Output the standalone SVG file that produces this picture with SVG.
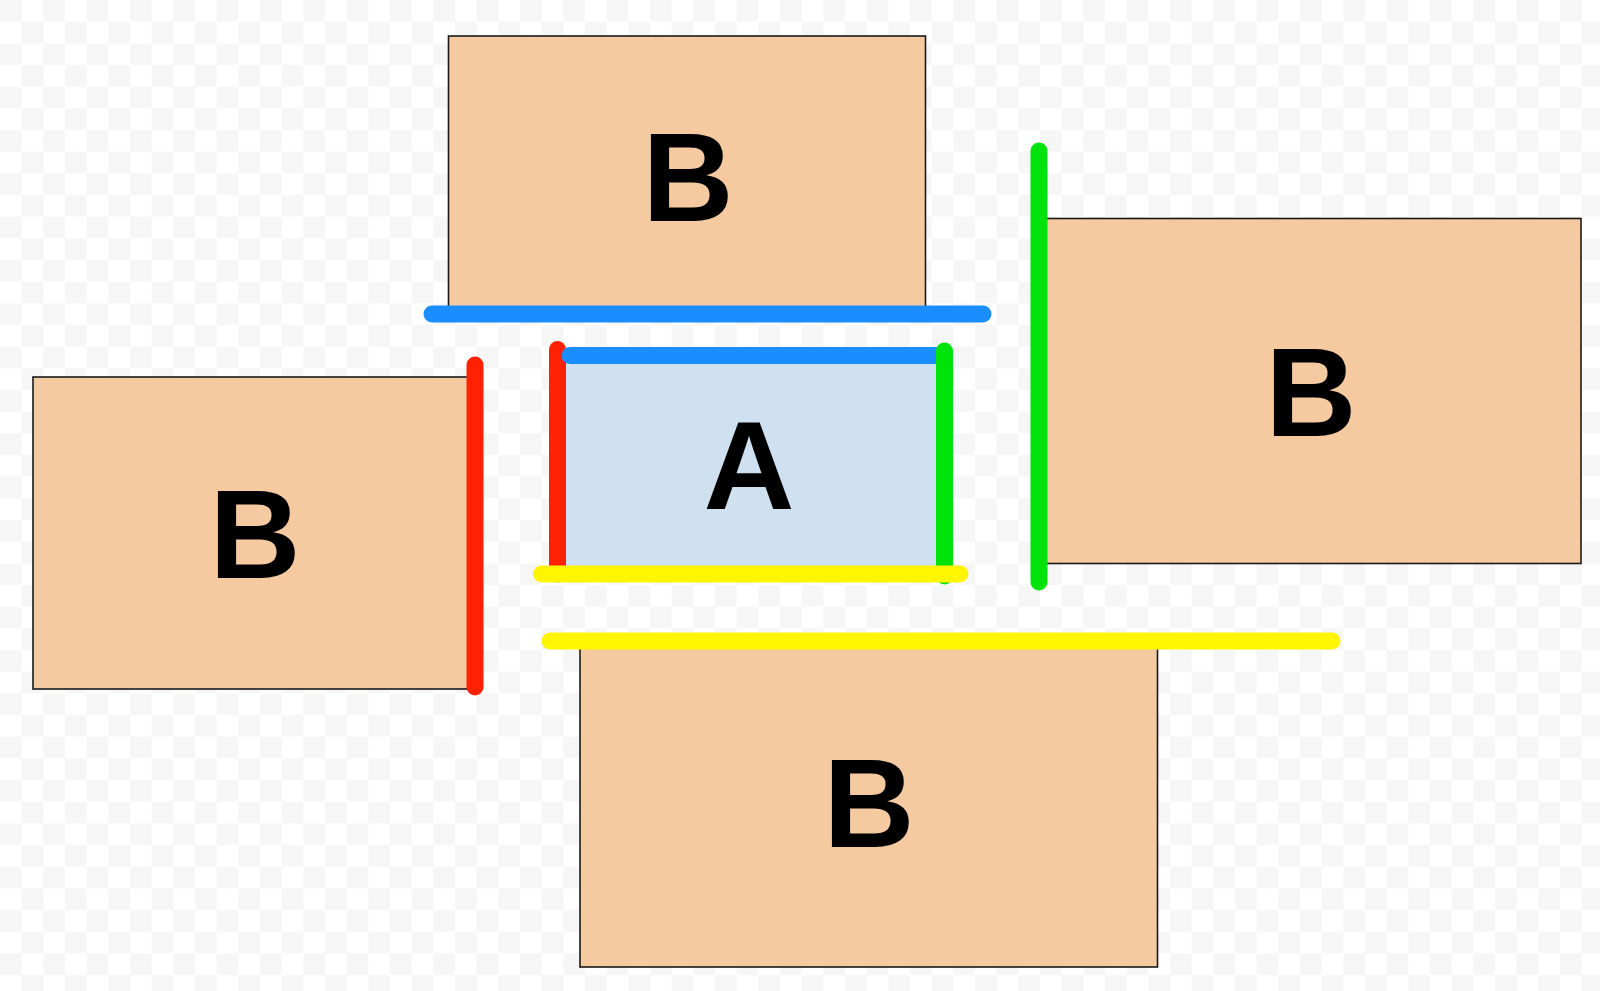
<svg xmlns="http://www.w3.org/2000/svg" width="1600" height="991" viewBox="0 0 1600 991">
<style>
.b{fill:#f6caa0;stroke:#1a1a1a;stroke-width:1.6}
.a{fill:#cfe1f1}
.t{font-family:"Liberation Sans",Arial,sans-serif;font-weight:bold;font-size:126px;text-anchor:middle;fill:#000}
.l{stroke-width:17;stroke-linecap:round;fill:none}
.red{stroke:#ff2200}.blue{stroke:#1b8eff}.green{stroke:#00e30a}.yellow{stroke:#fff500}
</style>
<defs>
<pattern id="chk" width="43.333" height="43.333" patternUnits="userSpaceOnUse">
<rect width="43.333" height="43.333" fill="#ffffff"/>
<rect width="21.667" height="21.667" fill="#f6f6f6"/>
<rect x="21.667" y="21.667" width="21.667" height="21.667" fill="#f6f6f6"/>
</pattern>
</defs>
<rect width="1600" height="991" fill="url(#chk)"/>
<g id="nodeBTop"><rect class="b" x="448.5" y="36" width="477" height="278"/><text class="t" x="688" y="221">B</text></g>
<g id="nodeBRight"><rect class="b" x="1040" y="218.5" width="541" height="345"/><text class="t" x="1311" y="436">B</text></g>
<g id="nodeBLeft"><rect class="b" x="33" y="377" width="443" height="312"/><text class="t" x="255" y="578">B</text></g>
<g id="nodeBBottom"><rect class="b" x="580" y="641" width="577.5" height="326"/><text class="t" x="869" y="847">B</text></g>
<g id="nodeA"><rect class="a" x="557" y="355" width="388" height="219"/><text class="t" x="749" y="509">A</text></g>
<g id="connectors">
<line class="l blue" x1="432" y1="314" x2="983" y2="314"/>
<line class="l red" x1="475" y1="365" x2="475" y2="687"/>
<line class="l green" x1="1039" y1="151" x2="1039" y2="582"/>
<line class="l yellow" x1="550" y1="641" x2="1332" y2="641"/>
<line class="l red" x1="557.5" y1="349.5" x2="557.5" y2="574" stroke-linecap="butt" style="stroke-linecap:round"/>
<line class="l blue" x1="570" y1="355.5" x2="940" y2="355.5"/>
<line class="l green" x1="944.5" y1="351" x2="944.5" y2="576"/>
<line class="l yellow" x1="541.5" y1="574" x2="960" y2="574"/>
</g>
</svg>
